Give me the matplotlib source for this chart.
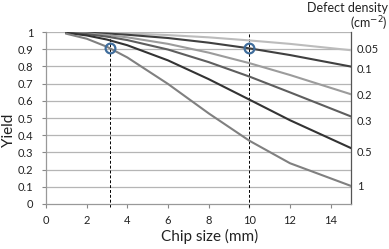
import matplotlib
matplotlib.use("Agg")
import matplotlib.pyplot as plt

chip_size = [1, 2, 3, 4, 6, 8, 10, 12, 15]
densities = ["0.05", "0.1", "0.2", "0.3", "0.5", "1"]
yield_005 = [0.9995, 0.998, 0.9955, 0.992, 0.982, 0.969, 0.951, 0.931, 0.894]
yield_01 = [0.999, 0.996, 0.991, 0.984, 0.965, 0.938, 0.905, 0.866, 0.799]
yield_02 = [0.998, 0.992, 0.982, 0.969, 0.931, 0.880, 0.819, 0.750, 0.638]
yield_03 = [0.997, 0.988, 0.973, 0.953, 0.898, 0.825, 0.741, 0.649, 0.509]
yield_05 = [0.995, 0.980, 0.956, 0.923, 0.835, 0.726, 0.607, 0.487, 0.325]
yield_1 = [0.990, 0.961, 0.914, 0.852, 0.698, 0.527, 0.368, 0.237, 0.105]
label_y = [0.90, 0.78, 0.63, 0.48, 0.30, 0.10]
marker_x = [3.162, 10]
marker_y = [0.905, 0.905]
xticks = [0, 2, 4, 6, 8, 10, 12, 14]
yticks = [0, 0.1, 0.2, 0.3, 0.4, 0.5, 0.6, 0.7, 0.8, 0.9, 1]
ytick_labels = ["0", "0.1", "0.2", "0.3", "0.4", "0.5", "0.6", "0.7", "0.8", "0.9", "1"]

series = [yield_005, yield_01, yield_02, yield_03, yield_05, yield_1]
colors = ["#bcbcbc", "#404040", "#9c9c9c", "#5e5e5e", "#333333", "#808080"]

plt.rcParams['font.family'] = ['Lato', 'DejaVu Sans']

fig = plt.figure(figsize=(3.89, 2.49), dpi=100)
ax = fig.add_axes([46/389, 1-204/249, (351-46)/389, (204-32)/249])

for y in yticks[1:]:
    ax.axhline(y, color="#b5b5b5", lw=0.9, zorder=1)

for ys, c in zip(series, colors):
    ax.plot(chip_size, ys, color=c, lw=1.5, zorder=3, solid_joinstyle='miter')

for mx in marker_x:
    ax.plot([mx, mx], [-0.02, 1.0], color="black", lw=0.7, ls=(0, (3, 2)), zorder=2, clip_on=False)

ax.plot(marker_x, marker_y, ls="none", marker="o", ms=7, mfc="none", mec="#3f6d9c", mew=1.6, zorder=4)

for lab, ly in zip(densities, label_y):
    ax.annotate(lab, xy=(1.02, ly), xycoords=("axes fraction", "data"),
                fontsize=8, va="center", ha="left", color="#222222", annotation_clip=False)

fig.text(1 - 0.003, 1-8/249, "Defect density", fontsize=9, ha="right", va="center", color="#222222")
fig.text(1 - 0.003, 1-24/249, "(cm$^{-2}$)", fontsize=9, ha="right", va="center", color="#222222")

ax.set_xlim(0, 15)
ax.set_ylim(0, 1)
ax.set_xticks(xticks)
ax.set_yticks(yticks)
ax.set_yticklabels(ytick_labels)
ax.tick_params(axis="both", labelsize=8, colors="#888888", labelcolor="#222222", length=3, width=0.8)
ax.tick_params(axis="y", pad=6)
ax.tick_params(axis="x", pad=5)

ax.spines["top"].set_visible(False)
ax.spines["left"].set_color("#999999")
ax.spines["bottom"].set_color("#999999")
ax.spines["right"].set_color("#555555")
for s in ["left", "bottom", "right"]:
    ax.spines[s].set_linewidth(0.9)

fig.text(210/389, 1-236/249, "Chip size (mm)", fontsize=11, color="#222222", ha="center", va="center")
fig.text(9/389, 1-130/249, "Yield", fontsize=11, color="#222222", ha="center", va="center", rotation=90)

fig.savefig("out.png", dpi=100)
